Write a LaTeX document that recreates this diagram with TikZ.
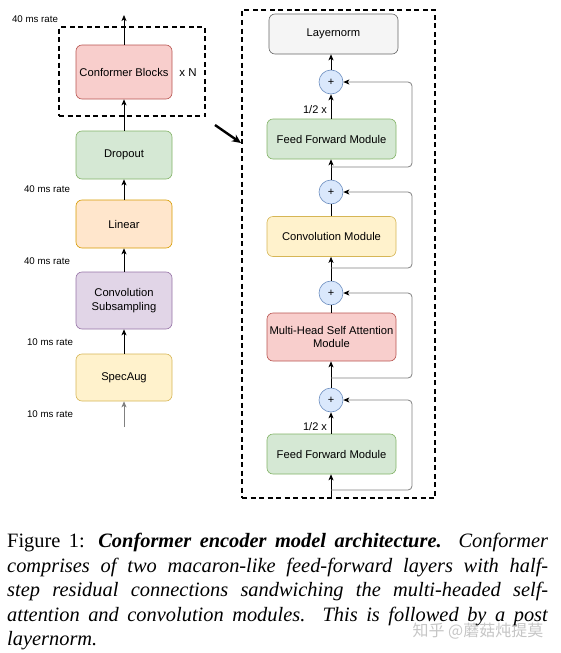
\documentclass[tikz,border=0pt]{standalone}
\usepackage{fontspec}
\setmainfont{Liberation Serif}
\setsansfont{Liberation Sans}
\newfontfamily\cjk{Noto Sans CJK SC}
\usetikzlibrary{arrows.meta}

\definecolor{redfill}{HTML}{F8CECC}\definecolor{reddraw}{HTML}{B85450}
\definecolor{grnfill}{HTML}{D5E8D4}\definecolor{grndraw}{HTML}{82B366}
\definecolor{orgfill}{HTML}{FFE6CC}\definecolor{orgdraw}{HTML}{D79B00}
\definecolor{prpfill}{HTML}{E1D5E7}\definecolor{prpdraw}{HTML}{9673A6}
\definecolor{ylwfill}{HTML}{FFF2CC}\definecolor{ylwdraw}{HTML}{D6B656}
\definecolor{gryfill}{HTML}{F5F5F5}\definecolor{grydraw}{HTML}{666666}
\definecolor{blufill}{HTML}{DAE8FC}\definecolor{bludraw}{HTML}{6C8EBF}

\tikzset{
    blk/.style={draw, rounded corners=6pt, line width=0.6pt, inner sep=0pt, align=center,
        font=\sffamily\fontsize{11.2}{13.5}\selectfont},
    lblk/.style={blk, minimum width=96pt},
    rblk/.style={blk, minimum width=129pt, minimum height=40pt},
    plus/.style={circle, draw=bludraw, fill=blufill, line width=0.6pt, minimum size=24pt,
        inner sep=0pt, font=\sffamily\fontsize{11}{12}\selectfont},
    rate/.style={font=\sffamily\fontsize{9.7}{11}\selectfont, inner sep=0pt},
    half/.style={font=\sffamily\fontsize{11}{12}\selectfont, inner sep=0pt},
    grp/.style={draw, line width=1.3pt, dash pattern=on 5pt off 3.5pt},
    arr/.style={line width=0.8pt, -{Stealth[length=6pt, width=5pt, inset=1.5pt]}},
    res/.style={draw=gray, line width=0.8pt, rounded corners=4pt,
        -{Stealth[length=6pt, width=5pt, inset=1.5pt, color=black]}},
}

\begin{document}
\begin{tikzpicture}[x=1pt, y=-1pt]
    \useasboundingbox (0,0) rectangle (560,653);
    % encoder, left column
    \node[grp, minimum width=146pt, minimum height=89pt] (enc) at (132,71.5) {};
    \node[lblk, fill=redfill, draw=reddraw, minimum height=54pt] (cfm) at (124,72) {Conformer Blocks};
    \node[lblk, fill=grnfill, draw=grndraw, minimum height=48pt] (drop) at (124,155) {Dropout};
    \node[lblk, fill=orgfill, draw=orgdraw, minimum height=48pt] (lin) at (124,224) {Linear};
    \node[lblk, fill=prpfill, draw=prpdraw, minimum height=57pt] (sub) at (124,300.5) {Convolution\\Subsampling};
    \node[lblk, fill=ylwfill, draw=ylwdraw, minimum height=47pt] (spec) at (124,377.5) {SpecAug};
    \node[font=\sffamily\fontsize{11.5}{13}\selectfont, inner sep=0pt] (xn) at (188,73) {x N};
    \coordinate (out) at (124,15);
    \coordinate (in) at (124,427);
    \draw[arr] (cfm.north) -- (out);
    \draw[arr] (drop.north) -- (cfm.south);
    \draw[arr] (lin.north) -- (drop.south);
    \draw[arr] (sub.north) -- (lin.south);
    \draw[arr] (spec.north) -- (sub.south);
    \draw[arr, gray] (in) -- (spec.south);
    \node[rate] (r1) at (35,19) {40 ms rate};
    \node[rate] (r2) at (47,189) {40 ms rate};
    \node[rate] (r3) at (47,261) {40 ms rate};
    \node[rate] (r4) at (50,342) {10 ms rate};
    \node[rate] (r5) at (50,414) {10 ms rate};
    % zoom arrow
    \coordinate (za) at (215,125);
    \coordinate (zb) at (241,143);
    \draw[line width=2.4pt, -{Stealth[length=9pt, width=8pt]}] (za) -- (zb);
    % conformer block, right column
    \node[grp, minimum width=193pt, minimum height=488pt] (blk) at (338.5,254) {};
    \node[rblk, fill=gryfill, draw=grydraw] (ln) at (333.5,34) {Layernorm};
    \node[plus] (pa) at (331,82) {+};
    \node[rblk, fill=grnfill, draw=grndraw] (ffa) at (331.5,139) {Feed Forward Module};
    \node[plus] (pb) at (331,192) {+};
    \node[rblk, fill=ylwfill, draw=ylwdraw] (conv) at (331.5,236.5) {Convolution Module};
    \node[plus] (pc) at (331,293) {+};
    \node[rblk, fill=redfill, draw=reddraw, minimum height=48pt] (mhsa) at (331.5,337) {Multi-Head Self Attention\\Module};
    \node[plus] (pd) at (331,400) {+};
    \node[rblk, fill=grnfill, draw=grndraw] (ffb) at (331.5,454) {Feed Forward Module};
    \node[half] (ha) at (315,110) {1/2 x};
    \node[half] (hb) at (315,427) {1/2 x};
    \coordinate (rin) at (331,498);
    \draw[arr] (rin) -- (ffb.south -| rin);
    \draw[arr] (ffb.north -| pd) -- (pd.south);
    \draw[arr] (pd.north) -- (mhsa.south -| pd);
    \draw[line width=0.8pt] (mhsa.north -| pc) -- (pc.south);
    \draw[arr] (pc.north) -- (conv.south -| pc);
    \draw[line width=0.8pt] (conv.north -| pb) -- (pb.south);
    \draw[arr] (pb.north) -- (ffa.south -| pb);
    \draw[arr] (ffa.north -| pa) -- (pa.south);
    \draw[arr] (pa.north) -- (ln.south -| pa);
    % residual paths
    \coordinate (ba) at (331,167);
    \coordinate (bb) at (331,268);
    \coordinate (bc) at (331,378);
    \coordinate (bd) at (331,490);
    \draw[res] (ba) -- ++(81,0) |- (pa.east);
    \draw[res] (bb) -- ++(81,0) |- (pb.east);
    \draw[res] (bc) -- ++(81,0) |- (pc.east);
    \draw[res] (bd) -- ++(81,0) |- (pd.east);
    % caption
    \node[text=gray!45, font=\cjk\fontsize{16}{18}\selectfont, inner sep=0pt] (wm) at (478,631) {知乎 @蘑菇炖提莫};
    \node[anchor=north west, inner sep=0pt, align=left, font=\fontsize{20.4}{24.5}\selectfont] (cap) at (7,533) {%
        \makebox[541pt][s]{Figure 1: \textbf{\textit{Conformer encoder model architecture.}} \textit{Conformer}}\\
        \makebox[541pt][s]{\textit{comprises of two macaron-like feed-forward layers with half-}}\\
        \makebox[541pt][s]{\textit{step residual connections sandwiching the multi-headed self-}}\\
        \makebox[541pt][s]{\textit{attention and convolution modules. This is followed by a post}}\\
        \textit{layernorm.}};
\end{tikzpicture}
\end{document}
